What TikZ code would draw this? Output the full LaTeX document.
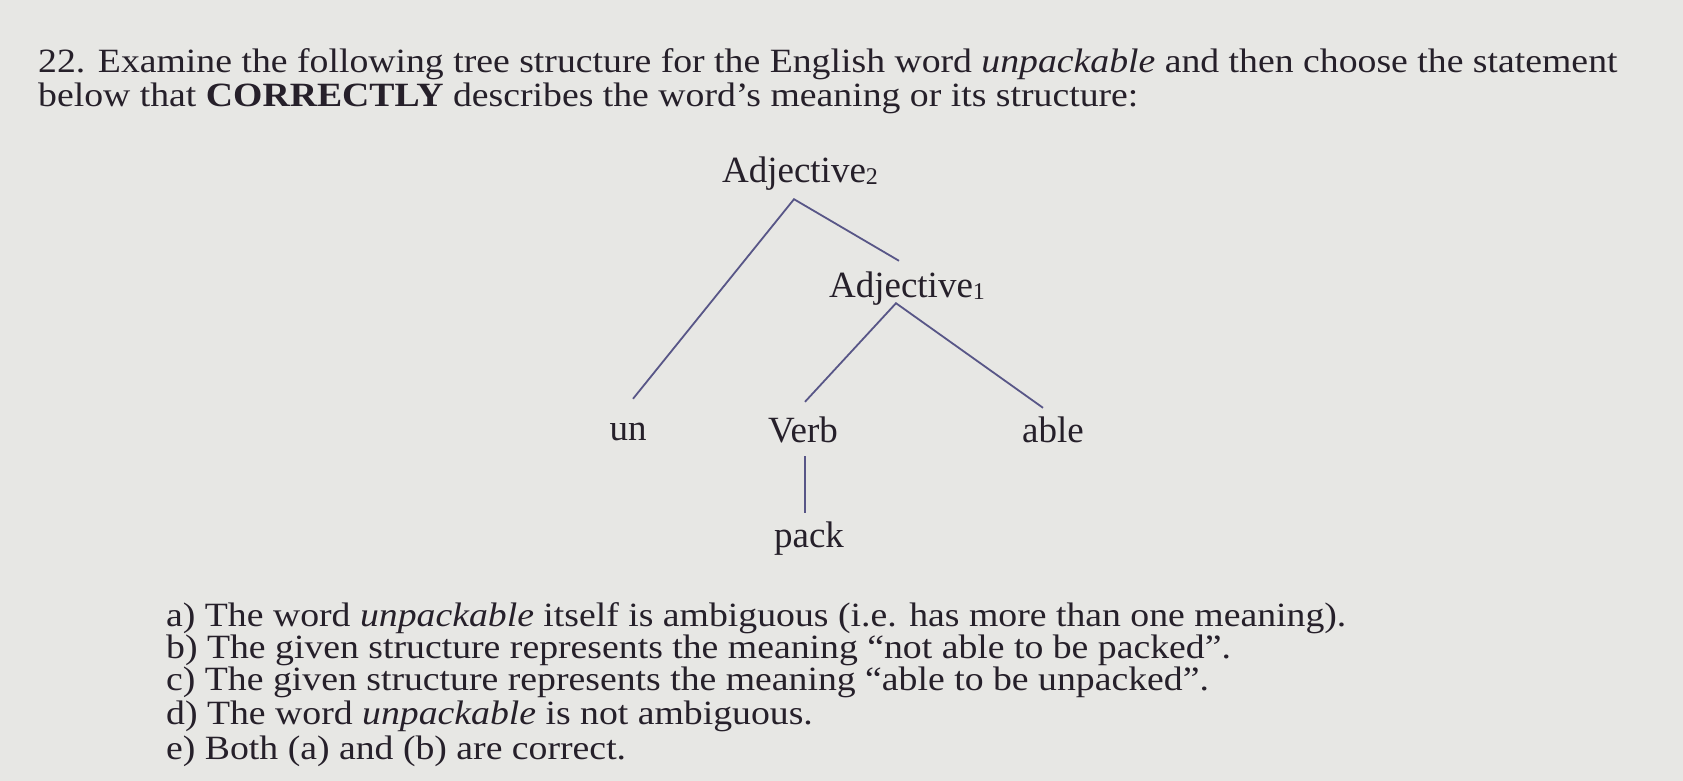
\documentclass[tikz,border=0pt]{standalone}
\usepackage{fontspec}
\setmainfont{Liberation Serif}
\newfontfamily\narrowtall[FakeStretch=1.11]{Liberation Serif}
\usepackage{tikz}
\definecolor{paper}{RGB}{231,231,228}
\definecolor{ink}{RGB}{38,32,42}
\definecolor{branch}{RGB}{88,86,135}
\newcommand{\lvl}[1]{\raisebox{-2pt}{\fontsize{24}{24}\selectfont #1}}
\tikzstyle{txt} = [anchor=base west, inner sep=0pt, text=ink, font=\narrowtall\fontsize{34}{36}\selectfont]
\tikzstyle{cat} = [anchor=base, inner sep=0pt, text=ink, text height=25pt, text depth=8pt, font=\fontsize{37}{40}\selectfont]
\tikzstyle{edge} = [draw=branch, line width=1.8pt]

\begin{document}
\begin{tikzpicture}[x=1pt, y=-1pt]
\fill[paper] (0,0) rectangle (1683,781);
\useasboundingbox (0,0) rectangle (1683,781);

% question
\node[txt] (q1) at (38,73) {22. Examine the following tree structure for the English word \textit{unpackable} and then choose the statement};
\node[txt] (q2) at (38,107) {below that \textbf{CORRECTLY} describes the word’s meaning or its structure:};

% tree
\node[cat] (adj2) at (800,182) {Adjective\lvl{2}};
\node[cat] (adj1) at (907,297) {Adjective\lvl{1}};
\node[cat] (un) at (628,440) {un};
\node[cat] (verb) at (803,442) {Verb};
\node[cat] (able) at (1053,442) {able};
\node[cat] (pack) at (809,547) {pack};

\draw[edge] ([shift={(5pt,16pt)}]un.north) -- ([shift={(-6pt,-9pt)}]adj2.south) -- ([shift={(-8pt,11pt)}]adj1.north);
\draw[edge] ([shift={(2pt,15pt)}]verb.north) -- ([shift={(-11pt,2pt)}]adj1.south) -- ([shift={(-10pt,9pt)}]able.north);
\draw[edge] ([shift={(2pt,-6pt)}]verb.south) -- ([shift={(-4pt,9pt)}]pack.north);

% choices
\node[txt] (ca) at (166,626) {a) The word \textit{unpackable} itself is ambiguous (i.e. has more than one meaning).};
\node[txt] (cb) at (166,658) {b) The given structure represents the meaning “not able to be packed”.};
\node[txt] (cc) at (166,690) {c) The given structure represents the meaning “able to be unpacked”.};
\node[txt] (cd) at (166,724) {d) The word \textit{unpackable} is not ambiguous.};
\node[txt] (ce) at (166,759) {e) Both (a) and (b) are correct.};
\end{tikzpicture}
\end{document}
